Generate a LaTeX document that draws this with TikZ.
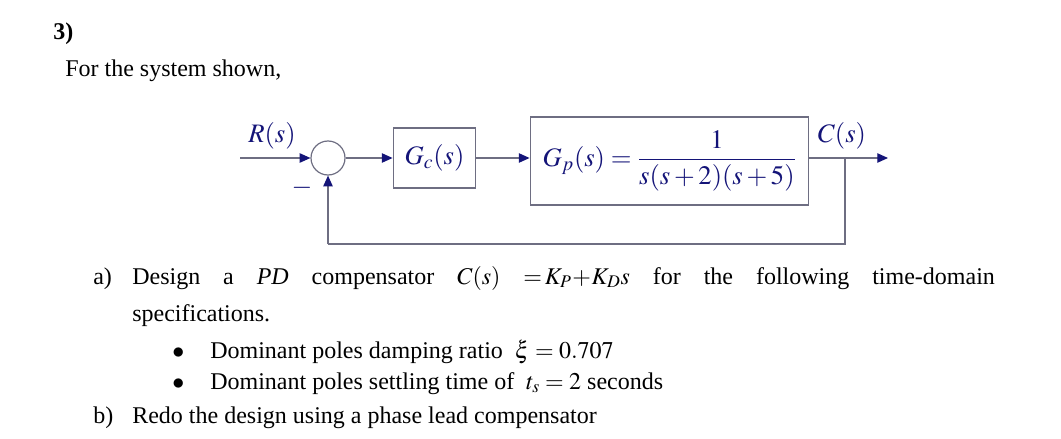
\documentclass[tikz,border=0pt]{standalone}
\usepackage{mathptmx}
\usepackage{fontspec}
\setmainfont{Liberation Serif}
\usetikzlibrary{arrows.meta}
\definecolor{navy}{RGB}{20,20,120}
\definecolor{ln}{RGB}{110,110,130}
\tikzset{
 blk/.style={draw=ln,line width=0.9pt,inner sep=0pt},
 wire/.style={draw=ln,line width=0.9pt},
 arr/.style={wire,-{Triangle[length=8pt,width=7pt,fill=navy,color=navy]}},
 dlab/.style={text=navy,font=\fontsize{20}{22}\selectfont},
 txt/.style={anchor=base west,inner sep=0pt,font=\fontsize{18}{20}\selectfont}
}
\begin{document}
\begin{tikzpicture}[x=0.75pt,y=-0.75pt]
\useasboundingbox (0,0) rectangle (1061,439);
% diagram
\node[draw=ln,line width=0.9pt,circle,minimum size=25.5pt,inner sep=0pt] (sum) at (328,158) {};
\node[blk,minimum width=62pt,minimum height=45pt] (gc) at (434.5,158) {};
\node[dlab] at (gc) {$G_c(s)$};
\node[blk,minimum width=209pt,minimum height=66pt] (gp) at (669.5,161) {};
\node[dlab] at (gp) {$\displaystyle G_p(s)=\frac{1}{s(s+2)(s+5)}$};
\coordinate (in) at (240,158);
\coordinate (out) at (888,158);
\coordinate (br) at (845,158);
\coordinate (bot) at (845,244);
\coordinate (bl) at (328,244);
\draw[arr] (in) -- (sum.west);
\draw[arr] (sum.east) -- (gc.west);
\draw[arr] (gc.east) -- (gp.west|-gc.east);
\draw[arr] (gp.east|-br) -- (out);
\draw[wire] (br) -- (bot) -- (bl);
\draw[arr] (bl) -- (sum.south);
\node[dlab] (R) at (272,136) {$R(s)$};
\node[dlab] (C) at (842,136) {$C(s)$};
\node[dlab] (m) at (302,188) {$-$};
% text
\node[txt,font=\fontsize{18}{20}\selectfont\bfseries] (t3) at (53,40) {3)};
\node[txt] (t1) at (65,76) {For the system shown,};
\node[txt] (ta) at (93,284) {a)};
\node[txt] (tal) at (132,284) {\hbox to 647pt{Design\hfill a\hfill \textit{PD}\hfill compensator\hfill $C(s)$\hfill $=\!K_P\!+\!K_Ds$\hfill for\hfill the\hfill following\hfill time-domain}};
\node[txt] (ts) at (132,321) {specifications.};
\node[txt] (b1) at (172,358) {$\bullet$};
\node[txt] (l1) at (210,358) {Dominant poles damping ratio\ \ $\xi=0.707$};
\node[txt] (b2) at (172,389) {$\bullet$};
\node[txt] (l2) at (210,389) {Dominant poles settling time of\ \ $t_s=2$ seconds};
\node[txt] (tb) at (93,423) {b)};
\node[txt] (tbl) at (132,423) {Redo the design using a phase lead compensator};
\end{tikzpicture}
\end{document}
